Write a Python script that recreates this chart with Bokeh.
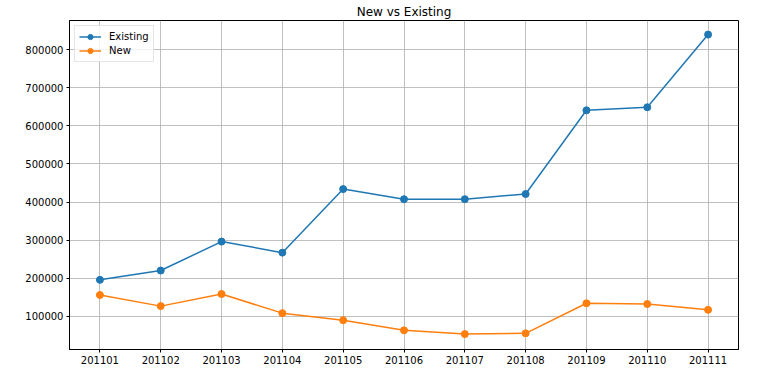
from bokeh.plotting import figure
from bokeh.models import FixedTicker, Range1d, Legend, LegendItem, BasicTickFormatter
from bokeh.embed import file_html
from bokeh.resources import INLINE

months = ["201101", "201102", "201103", "201104", "201105", "201106",
          "201107", "201108", "201109", "201110", "201111"]
existing = [195500, 220000, 296000, 267000, 434000, 407500, 407500, 421000, 641000, 649000, 840000]
new = [155700, 126500, 158300, 108000, 89400, 62900, 53000, 55000, 134000, 132000, 116700]
y_ticks = [100000, 200000, 300000, 400000, 500000, 600000, 700000, 800000]

x = list(range(len(months)))

p = figure(width=753, height=366, output_backend="svg", toolbar_location=None,
           x_range=Range1d(-0.5, len(months) - 0.5), y_range=Range1d(12500, 877000),
           title="New vs Existing", min_border_left=69, min_border_right=15,
           min_border_top=0, min_border_bottom=0)

p.title.align = "center"
p.title.text_font = "DejaVu Sans"
p.title.text_font_size = "12px"
p.title.text_font_style = "normal"
p.title.text_color = "black"
p.title.offset = 0
p.title.standoff = 4

blue = "#1f77b4"
orange = "#ff7f0e"
l1 = p.line(x, existing, line_color=blue, line_width=1.5)
s1 = p.scatter(x, existing, size=7, fill_color=blue, line_color=blue)
l2 = p.line(x, new, line_color=orange, line_width=1.5)
s2 = p.scatter(x, new, size=7, fill_color=orange, line_color=orange)

p.xaxis.ticker = FixedTicker(ticks=x)
p.xaxis.major_label_overrides = {i: m for i, m in zip(x, months)}
p.yaxis.ticker = FixedTicker(ticks=y_ticks)
p.yaxis.formatter = BasicTickFormatter(use_scientific=False)

for ax in [p.xaxis[0], p.yaxis[0]]:
    ax.major_label_text_font = "DejaVu Sans"
    ax.major_label_text_font_size = "10px"
    ax.major_label_text_color = "black"
    ax.axis_line_color = "black"
    ax.major_tick_line_color = "black"
    ax.major_tick_in = 0
    ax.major_tick_out = 3
    ax.minor_tick_line_color = None
    ax.major_label_standoff = 3

p.xgrid.ticker = FixedTicker(ticks=x)
p.ygrid.ticker = FixedTicker(ticks=y_ticks)
p.grid.grid_line_color = "#b0b0b0"
p.grid.grid_line_width = 0.8
p.outline_line_color = "black"
p.outline_line_width = 1
p.outline_line_alpha = 1

legend = Legend(items=[LegendItem(label="Existing", renderers=[l1, s1]),
                       LegendItem(label="New", renderers=[l2, s2])],
                location="top_left")
legend.margin = 5
legend.padding = 4
legend.spacing = 1
legend.glyph_width = 22
legend.glyph_height = 13
legend.label_height = 13
legend.label_standoff = 8
legend.label_text_font = "DejaVu Sans"
legend.label_text_font_size = "10px"
legend.label_text_color = "black"
legend.border_line_color = "#cccccc"
legend.border_line_width = 1
legend.background_fill_alpha = 0.8
p.add_layout(legend)

open("out.html", "w").write(file_html(p, INLINE))
